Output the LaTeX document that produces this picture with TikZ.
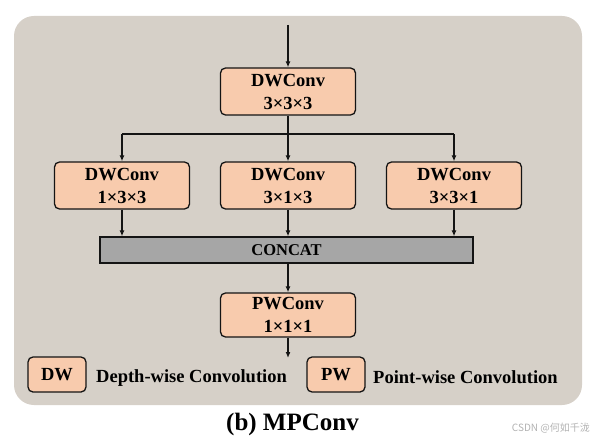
\documentclass[tikz,border=0pt]{standalone}
\usepackage{fontspec}
\setmainfont{Liberation Serif}
\newfontfamily\cjkwm{Noto Sans CJK SC}
\usetikzlibrary{arrows.meta}
\definecolor{bgcol}{RGB}{214,208,200}
\definecolor{boxcol}{RGB}{248,203,173}
\definecolor{catcol}{RGB}{166,166,166}
\definecolor{linecol}{RGB}{20,20,20}
\begin{document}
\begin{tikzpicture}[x=1pt,y=-1pt,
  convbox/.style={draw=linecol,fill=boxcol,line width=1.3pt,rounded corners=5pt,
    minimum width=135pt,minimum height=47pt,inner sep=0pt,align=center,
    font=\fontsize{18.5}{23}\selectfont\bfseries},
  legbox/.style={draw=linecol,fill=boxcol,line width=1.3pt,rounded corners=5pt,
    minimum width=58pt,minimum height=35pt,inner sep=0pt,
    font=\fontsize{18.5}{23}\selectfont\bfseries},
  catbox/.style={draw=linecol,fill=catcol,line width=1.3pt,
    minimum width=373pt,minimum height=26pt,inner sep=0pt,
    font=\fontsize{16.5}{20}\selectfont\bfseries},
  legtext/.style={anchor=base west,inner sep=0pt,font=\fontsize{18.5}{23}\selectfont\bfseries},
  conn/.style={draw=linecol,line width=1.3pt,-{Latex[length=6pt,width=5pt]}},
  plain/.style={draw=linecol,line width=1.3pt}]
\useasboundingbox (0,0) rectangle (593,438);
\fill[bgcol,rounded corners=20pt] (14,16) rectangle (582,405);

\coordinate (in) at (288,25);
\node[convbox] (top) at (288,91.5) {DWConv\\3×3×3};
\coordinate (br) at (288,134);
\coordinate (brl) at (122,134);
\coordinate (brr) at (454,134);
\node[convbox] (l) at (122,185.5) {DWConv\\1×3×3};
\node[convbox] (m) at (288,185.5) {DWConv\\3×1×3};
\node[convbox] (r) at (454,185.5) {DWConv\\3×3×1};
\node[catbox] (cat) at (286.5,250) {CONCAT};
\node[convbox,minimum height=44pt] (pw) at (288,315) {PWConv\\1×1×1};
\coordinate (out) at (288,358);

\draw[conn] (in) -- (top.north);
\draw[plain] (top.south) -- (br);
\draw[plain] (brl) -- (brr);
\draw[conn] (brl) -- (l.north);
\draw[conn] (br) -- (m.north);
\draw[conn] (brr) -- (r.north);
\draw[conn] (l.south) -- (l.south |- cat.north);
\draw[conn] (m.south) -- (m.south |- cat.north);
\draw[conn] (r.south) -- (r.south |- cat.north);
\draw[conn] (pw.north |- cat.south) -- (pw.north);
\draw[conn] (pw.south) -- (out);

\node[legbox] (dw) at (57,374.5) {DW};
\node[legtext] (dwt) at (96,382) {Depth-wise Convolution};
\node[legbox] (pwl) at (336,374.5) {PW};
\node[legtext] (pwt) at (373,383) {Point-wise Convolution};

\node[anchor=base,inner sep=0pt,font=\fontsize{25}{30}\selectfont\bfseries] (title) at (292.5,430) {(b) MPConv};
\node[anchor=base east,inner sep=0pt,text=black!30,font=\fontsize{10}{12}\selectfont\cjkwm] (wm) at (590,431) {CSDN @何如千泷};
\end{tikzpicture}
\end{document}
